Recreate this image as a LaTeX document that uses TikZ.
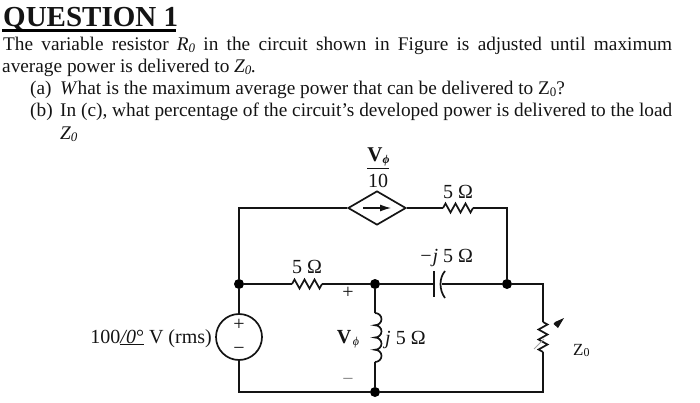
\documentclass[tikz,border=0pt]{standalone}
\usepackage{fontspec}
\setmainfont{Liberation Serif}
\usetikzlibrary{shapes.geometric,decorations.pathmorphing,arrows.meta}
\definecolor{ink}{gray}{0.08}
\newcommand{\sz}[1]{\fontsize{#1}{#1}\selectfont}
\newcommand{\sub}[1]{\raisebox{-1.5pt}{\sz{13}\textit{#1}}}
\tikzset{
  wire/.style={draw=ink,line width=1.7pt},
  dot/.style={circle,fill=black,inner sep=0pt,minimum size=10pt},
  res/.style={draw=ink,line width=1.7pt,decorate,decoration={zigzag,segment length=10pt,amplitude=4.5pt}},
  body/.style={anchor=base west,inner sep=0pt,text=ink,font=\sz{19.3}},
  lab/.style={inner sep=0pt,text=ink,font=\sz{20}},
  sign/.style={inner sep=0pt,text=ink,font=\sz{20}}
}
\begin{document}
\begin{tikzpicture}[x=1pt,y=-1pt]
\useasboundingbox (0,0) rectangle (700,403);
% heading and text
\node[body,font=\sz{29}\bfseries] (title) at (3,27) {QUESTION 1};
\coordinate (ulA) at (2,30.5);
\coordinate (ulB) at (176,30.5);
\draw[black,line width=2.6pt] (ulA) -- (ulB);
\node[body] (l1) at (3,51) {\makebox[669pt][s]{The variable resistor \textit{R\sub{0}} in the circuit shown in Figure is adjusted until maximum}};
\node[body] (l2) at (2,73) {average power is delivered to \textit{Z\sub{0}.}};
\node[body] (l3a) at (30,95) {(a)};
\node[body] (l3) at (60,95) {\textit{W}hat is the maximum average power that can be delivered to Z\raisebox{-1.5pt}{\sz{13}0}?};
\node[body] (l4a) at (30,117) {(b)};
\node[body] (l4) at (60,117) {\makebox[612pt][s]{In (c), what percentage of the circuit's developed power is delivered to the load}};
\node[body] (l5) at (60,140) {\textit{Z\sub{0}}};
% circuit points
\coordinate (tl) at (239,208);
\coordinate (tr) at (507,208);
\coordinate (br) at (543,392);
\coordinate (bl) at (239,392);
\coordinate (rc) at (543,284);
\node[dot] (A) at (239,284) {};
\node[dot] (B) at (375,284) {};
\node[dot] (C) at (507,284) {};
\node[dot] (D) at (375,392) {};
\node[draw=ink,line width=1.7pt,diamond,aspect=1.7,minimum width=58pt,minimum height=34pt,inner sep=0pt] (cs) at (377,208) {};
\node[draw=ink,line width=1.7pt,circle,minimum size=46pt,inner sep=0pt] (vs) at (239,337) {};
% resistors
\coordinate (r1a) at (443,208); \coordinate (r1b) at (473,208);
\coordinate (r2a) at (292,284); \coordinate (r2b) at (322,284);
\coordinate (r3a) at (543,322); \coordinate (r3b) at (543,352);
\draw[res] (r1a) -- (r1b);
\draw[res] (r2a) -- (r2b);
\draw[res] (r3a) -- (r3b);
% capacitor
\coordinate (c1) at (434,284); \coordinate (c2) at (442,284);
\coordinate (c1t) at (434,271); \coordinate (c1b) at (434,297);
\draw[wire] (c1t) -- (c1b);
\draw[wire] (445,271) .. controls (439,278) and (439,290) .. (445,298);
% inductor
\coordinate (la) at (375,313); \coordinate (lb) at (375,362);
\draw[wire] (la) arc (-90:90:6.5 and 6.125) arc (-90:90:6.5 and 6.125) arc (-90:90:6.5 and 6.125) arc (-90:90:6.5 and 6.125);
% wires
\draw[wire] (A) -- (vs.north);
\draw[wire] (vs.south) -- (bl) -- (D);
\draw[wire] (D) -- (br) -- (r3b);
\draw[wire] (r3a) -- (rc) -- (C);
\draw[wire] (A) -- (tl) -- (cs.west);
\draw[wire] (cs.east) -- (r1a);
\draw[wire] (r1b) -- (tr) -- (C);
\draw[wire] (A) -- (r2a);
\draw[wire] (r2b) -- (B);
\draw[wire] (B) -- (c1);
\draw[wire] (c2) -- (C);
\draw[wire] (B) -- (la);
\draw[wire] (lb) -- (D);
% dependent source arrow
\coordinate (arA) at (363,208); \coordinate (arB) at (391,208);
\draw[draw=ink,line width=1.2pt,-{Latex[length=11pt,width=7pt]}] (arA) -- (arB);
% variable resistor arrow
\coordinate (vaA) at (534,349); \coordinate (vaB) at (544,339);
\draw[gray!70,line width=0.8pt] (vaA) -- (vaB);
\fill[ink] (564,318) -- (555,322) -- (553.5,324) -- (558,328) -- cycle;
% labels
\node[lab,font=\sz{21}\bfseries,anchor=base] (vf) at (375,162) {V};
\node[lab,font=\sz{12}\bfseries\itshape,anchor=base] (vfs) at (386,164) {ϕ};
\coordinate (fa) at (367,169); \coordinate (fb) at (389,169);
\draw[ink,line width=1pt] (fa) -- (fb);
\node[lab,anchor=base] (ten) at (378,188) {10};
\node[lab,anchor=base] (rt) at (458,198) {5 Ω};
\node[lab,anchor=base] (rl) at (307,273) {5 Ω};
\node[lab,anchor=base] (rx) at (446,262) {\textit{−j} 5 Ω};
\node[lab,anchor=base east] (src) at (212,343) {100\underline{\textit{/0}°} V (rms)};
\node[lab,anchor=base] (pl) at (348,298) {+};
\node[sign] (sp) at (239,325) {+};
\node[sign] (sm) at (239,351) {−};
\node[sign,text=gray] (mn) at (348,382) {−};
\node[lab,font=\sz{20}\bfseries,anchor=base] (vv) at (344,343) {V};
\node[lab,font=\sz{12}\itshape,anchor=base] (vvs) at (356,345) {ϕ};
\node[lab,anchor=base west] (xl) at (385,344) {\textit{j} 5 Ω};
\node[lab,anchor=base west,font=\sz{17}] (zo) at (573,355) {Z\raisebox{-1pt}{\sz{12}0}};
\end{tikzpicture}
\end{document}
